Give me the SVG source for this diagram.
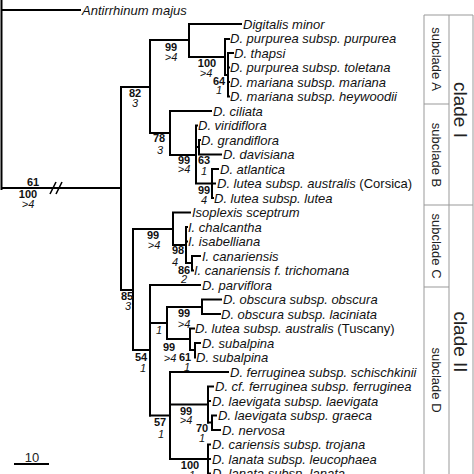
<svg xmlns="http://www.w3.org/2000/svg" width="474" height="474" viewBox="0 0 474 474">
<style>
.br{stroke:#000;stroke-width:2;fill:none;stroke-linecap:square}
.tx{font-family:"Liberation Sans",Arial,sans-serif;font-size:13px;font-style:italic;fill:#111}
.up{font-style:normal}
.bs{font-family:"Liberation Sans",Arial,sans-serif;font-size:11px;font-weight:bold;fill:#111;text-anchor:middle}
.di{font-family:"Liberation Sans",Arial,sans-serif;font-size:11px;font-style:italic;fill:#111;text-anchor:middle}
.bx{stroke:#999;stroke-width:1;fill:none}
.sc{font-family:"Liberation Sans",Arial,sans-serif;font-size:13px;fill:#222;text-anchor:middle}
.cl{font-family:"Liberation Sans",Arial,sans-serif;font-size:19px;fill:#222;text-anchor:middle}
</style>
<rect width="474" height="474" fill="#fff"/>
<g id="connectors">
<path class="br" stroke-width="3" d="M1.5 0V189"/>
<path class="br" d="M2 10H80M2 188H121"/>
<path d="M50 194L56 182M56 194L62 182" stroke="#000" stroke-width="1.6" fill="none"/>
<path class="br" d="M121 87V290M121 290H133"/>
<path class="br" d="M121 87H150M150 40V133"/>
<path class="br" d="M150 40H189M189 24V57M189 24H241M189 57H225"/>
<path class="br" d="M225 39V75M225 39H229M225 75H228"/>
<path class="br" d="M228 53V96.5M228 53H233M228 67.5H229M228 82H229M228 96.5H229"/>
<path class="br" d="M150 133H170M170 111V155M170 111H211M170 155H196"/>
<path class="br" d="M196 125.5V183.5M196 125.5H197M196 147H199M196 183.5H212"/>
<path class="br" d="M199 140V154.5M199 140H200M199 154.5H221"/>
<path class="br" d="M212 169V198M212 169H218M212 183.5H215M212 198H213"/>
<path class="br" d="M133 229V350"/>
<path class="br" d="M133 229H173M173 212.5V245M173 212.5H190M173 245H186"/>
<path class="br" d="M186 227V263M186 227H187M186 241.5H187M186 263H192"/>
<path class="br" d="M192 256V270.5M192 256H200M192 270.5H193"/>
<path class="br" d="M133 350H150M150 285V415.5M150 285H200"/>
<path class="br" d="M150 323H167M167 307V339"/>
<path class="br" d="M167 307H202M202 299.5V314M202 299.5H221M202 314H220"/>
<path class="br" d="M167 339H190M190 328.5V350M190 328.5H194M190 350H195"/>
<path class="br" d="M195 343V357.5M195 343H200M195 357.5H195"/>
<path class="br" d="M150 415.5H170M170 372V459M170 372H228"/>
<path class="br" d="M170 404.5H208M208 386.5V422.5M208 386.5H213M208 401H210"/>
<path class="br" d="M208 422.5H212M212 415.5V430M212 415.5H216M212 430H220"/>
<path class="br" d="M170 459H208M208 444.5V480M208 444.5H210M208 459H210M208 473.5H210"/>
<path class="br" d="M15 464H48"/>
</g>
<g id="taxa">
<g id="t0"><text class="tx" x="82" y="14.5">Antirrhinum majus</text></g>
<g id="t1"><text class="tx" x="243" y="28.5">Digitalis minor</text></g>
<g id="t2"><text class="tx" x="230" y="43">D. purpurea subsp. purpurea</text></g>
<g id="t3"><text class="tx" x="234" y="57.5">D. thapsi</text></g>
<g id="t4"><text class="tx" x="230" y="72">D. purpurea subsp. toletana</text></g>
<g id="t5"><text class="tx" x="230" y="86.5">D. mariana subsp. mariana</text></g>
<g id="t6"><text class="tx" x="230" y="101">D. mariana subsp. heywoodii</text></g>
<g id="t7"><text class="tx" x="213" y="115.5">D. ciliata</text></g>
<g id="t8"><text class="tx" x="198" y="130">D. viridiflora</text></g>
<g id="t9"><text class="tx" x="201" y="144.5">D. grandiflora</text></g>
<g id="t10"><text class="tx" x="223" y="159">D. davisiana</text></g>
<g id="t11"><text class="tx" x="220" y="173.5">D. atlantica</text></g>
<g id="t12"><text class="tx" x="217" y="188">D. lutea subsp. australis <tspan class="up">(Corsica)</tspan></text></g>
<g id="t13"><text class="tx" x="214" y="202.5">D. lutea subsp. lutea</text></g>
<g id="t14"><text class="tx" x="192" y="217">Isoplexis sceptrum</text></g>
<g id="t15"><text class="tx" x="188" y="231.5">I. chalcantha</text></g>
<g id="t16"><text class="tx" x="188" y="246">I. isabelliana</text></g>
<g id="t17"><text class="tx" x="202" y="260.5">I. canariensis</text></g>
<g id="t18"><text class="tx" x="194" y="275">I. canariensis f. trichomana</text></g>
<g id="t19"><text class="tx" x="202" y="289.5">D. parviflora</text></g>
<g id="t20"><text class="tx" x="223" y="304">D. obscura subsp. obscura</text></g>
<g id="t21"><text class="tx" x="221" y="318.5">D. obscura subsp. laciniata</text></g>
<g id="t22"><text class="tx" x="195" y="333">D. lutea subsp. australis <tspan class="up">(Tuscany)</tspan></text></g>
<g id="t23"><text class="tx" x="202" y="347.5">D. subalpina</text></g>
<g id="t24"><text class="tx" x="196" y="362">D. subalpina</text></g>
<g id="t25"><text class="tx" x="230" y="376.5">D. ferruginea subsp. schischkinii</text></g>
<g id="t26"><text class="tx" x="215" y="391">D. cf. ferruginea subsp. ferruginea</text></g>
<g id="t27"><text class="tx" x="212" y="405.5">D. laevigata subsp. laevigata</text></g>
<g id="t28"><text class="tx" x="218" y="420">D. laevigata subsp. graeca</text></g>
<g id="t29"><text class="tx" x="222" y="434.5">D. nervosa</text></g>
<g id="t30"><text class="tx" x="212" y="449">D. cariensis subsp. trojana</text></g>
<g id="t31"><text class="tx" x="212" y="463.5">D. lanata subsp. leucophaea</text></g>
<g id="t32"><text class="tx" x="212" y="478">D. lanata subsp. lanata</text></g>
</g>
<g id="support">
<g id="n-root"><text class="bs" x="33" y="186" font-weight="normal" font-size="12">61</text><text class="bs" x="28" y="198">100</text><text class="di" x="28" y="208">&gt;4</text></g>
<g id="n-99a"><text class="bs" x="171" y="51">99</text><text class="di" x="171" y="61">&gt;4</text></g>
<g id="n-100a"><text class="bs" x="207" y="67">100</text><text class="di" x="206" y="77">&gt;4</text></g>
<g id="n-64"><text class="bs" x="219" y="85">64</text><text class="di" x="219" y="94">1</text></g>
<g id="n-82"><text class="bs" x="135" y="97">82</text><text class="di" x="135" y="107">3</text></g>
<g id="n-78"><text class="bs" x="159" y="142">78</text><text class="di" x="160" y="154">3</text></g>
<g id="n-99b"><text class="bs" x="184" y="164">99</text><text class="di" x="184" y="173">&gt;4</text></g>
<g id="n-63"><text class="bs" x="204" y="164">63</text><text class="di" x="204" y="175">1</text></g>
<g id="n-99c"><text class="bs" x="204" y="194">99</text><text class="di" x="204" y="204">4</text></g>
<g id="n-99i"><text class="bs" x="153" y="239">99</text><text class="di" x="154" y="249">&gt;4</text></g>
<g id="n-98"><text class="bs" x="178" y="254">98</text><text class="di" x="175" y="266">4</text></g>
<g id="n-86"><text class="bs" x="184" y="274">86</text><text class="di" x="184" y="283">2</text></g>
<g id="n-85"><text class="bs" x="127" y="300">85</text><text class="di" x="128" y="310">3</text></g>
<g id="n-1"><text class="di" x="159" y="334">1</text></g>
<g id="n-99o"><text class="bs" x="184" y="317">99</text><text class="di" x="184" y="328">&gt;4</text></g>
<g id="n-99t"><text class="bs" x="169" y="351">99</text><text class="di" x="170" y="362">&gt;4</text></g>
<g id="n-61"><text class="bs" x="185" y="361">61</text><text class="di" x="187" y="371">1</text></g>
<g id="n-54"><text class="bs" x="141" y="361">54</text><text class="di" x="143" y="372">1</text></g>
<g id="n-57"><text class="bs" x="160" y="426">57</text><text class="di" x="161" y="438">1</text></g>
<g id="n-99l"><text class="bs" x="186" y="415">99</text><text class="di" x="186" y="424">&gt;4</text></g>
<g id="n-70"><text class="bs" x="202" y="432">70</text><text class="di" x="202" y="442">1</text></g>
<g id="n-100l"><text class="bs" x="190" y="469">100</text><text class="di" x="192" y="479">1</text></g>
</g>
<g id="scale"><text class="sc" x="32" y="462" font-size="14">10</text></g>
<g id="clades">
<path class="bx" d="M424 15V474M449 15V474M473 15V474M424 15H473M424 104H449M424 205H473M424 287H449"/>
<g id="subA"><text class="sc" transform="translate(436.5 59) rotate(90)" y="4.5">subclade A</text></g>
<g id="subB"><text class="sc" transform="translate(436.5 155) rotate(90)" y="4.5">subclade B</text></g>
<g id="subC"><text class="sc" transform="translate(436.5 246) rotate(90)" y="4.5">subclade C</text></g>
<g id="subD"><text class="sc" transform="translate(436.5 380) rotate(90)" y="4.5">subclade D</text></g>
<g id="cladeI"><text class="cl" transform="translate(461 110) rotate(90)" y="7">clade I</text></g>
<g id="cladeII"><text class="cl" transform="translate(461 342) rotate(90)" y="7">clade II</text></g>
</g>
</svg>
